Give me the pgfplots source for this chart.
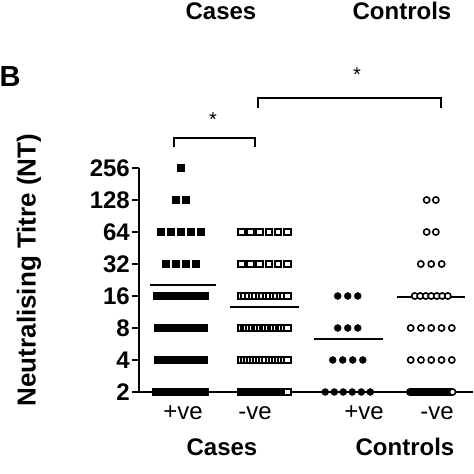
\documentclass[border=0pt]{standalone}
\usepackage{pgfplots}
\pgfplotsset{compat=1.18}
\usepackage{fontspec}
\setmainfont{Liberation Sans}
\begin{document}
\begin{tikzpicture}
\begin{axis}[
  name=ax,
  at={(0,0)}, anchor=south west,
  scale only axis, width=334bp, height=224bp,
  xmin=0.5, xmax=4.5,
  ymode=log, log basis y=2, ymin=2, ymax=256,
  axis x line*=bottom, axis y line*=left,
  axis line style={-, line width=1.6bp, black},
  xtick=\empty,
  ytick={2,4,8,16,32,64,128,256},
  yticklabels={\textbf{2},\textbf{4},\textbf{8},\textbf{16},\textbf{32},\textbf{64},\textbf{128},\textbf{256}},
  /pgf/number format/assume math mode=true,
  tick align=outside, major tick length=7bp,
  every tick/.style={black, line width=1.6bp},
  yticklabel style={font=\bfseries\fontsize{24bp}{24bp}\selectfont, inner sep=2bp},
  clip=false,
]
% Cases +ve (filled squares)
\addplot[only marks, mark=square*, mark size=3.8bp, mark options={fill=black, draw=black, line width=0.6bp}] table {
x y
1 256
0.94 128
1.06 128
0.76 64
0.88 64
1.00 64
1.12 64
1.24 64
0.82 32
0.94 32
1.06 32
1.18 32
0.712 16
0.760 16
0.808 16
0.856 16
0.904 16
0.952 16
1.000 16
1.048 16
1.096 16
1.144 16
1.192 16
1.240 16
1.288 16
0.730 8
0.779 8
0.828 8
0.877 8
0.926 8
0.975 8
1.025 8
1.074 8
1.123 8
1.172 8
1.221 8
1.270 8
0.730 4
0.779 4
0.828 4
0.877 4
0.926 4
0.975 4
1.025 4
1.074 4
1.123 4
1.172 4
1.221 4
1.270 4
0.710 2
0.755 2
0.799 2
0.844 2
0.888 2
0.933 2
0.978 2
1.022 2
1.067 2
1.112 2
1.156 2
1.201 2
1.245 2
1.290 2
};
% Cases -ve (open squares)
\addplot[only marks, mark=square*, mark size=3.3bp, mark options={fill=white, draw=black, line width=2bp}] table {
x y
1.725 64
1.835 64
1.945 64
2.055 64
2.165 64
2.275 64
1.725 32
1.835 32
1.945 32
2.055 32
2.165 32
2.275 32
1.725 16
1.767 16
1.810 16
1.852 16
1.894 16
1.937 16
1.979 16
2.021 16
2.063 16
2.106 16
2.148 16
2.190 16
2.233 16
2.275 16
1.725 8
1.757 8
1.790 8
1.822 8
1.854 8
1.887 8
1.919 8
1.951 8
1.984 8
2.016 8
2.049 8
2.081 8
2.113 8
2.146 8
2.178 8
2.210 8
2.243 8
2.275 8
1.725 4
1.762 4
1.798 4
1.835 4
1.872 4
1.908 4
1.945 4
1.982 4
2.018 4
2.055 4
2.092 4
2.128 4
2.165 4
2.202 4
2.238 4
2.275 4
1.725 2
1.739 2
1.753 2
1.767 2
1.781 2
1.795 2
1.809 2
1.823 2
1.837 2
1.851 2
1.866 2
1.880 2
1.894 2
1.908 2
1.922 2
1.936 2
1.950 2
1.964 2
1.978 2
1.993 2
2.007 2
2.021 2
2.035 2
2.049 2
2.063 2
2.077 2
2.091 2
2.105 2
2.119 2
2.134 2
2.148 2
2.162 2
2.176 2
2.190 2
2.204 2
2.218 2
2.232 2
2.246 2
2.260 2
2.275 2
};
% Controls +ve (filled circles)
\addplot[only marks, mark=*, mark size=3.5bp, mark options={fill=black, draw=black, line width=0.4bp}] table {
x y
2.88 16
3.00 16
3.12 16
2.88 8
3.00 8
3.12 8
2.82 4
2.94 4
3.06 4
3.18 4
2.730 2
2.838 2
2.946 2
3.054 2
3.162 2
3.270 2
};
% Controls -ve (open circles)
\addplot[only marks, mark=*, mark size=3.1bp, mark options={fill=white, draw=black, line width=1.6bp}] table {
x y
3.945 128
4.055 128
3.945 64
4.055 64
3.875 32
4.000 32
4.125 32
3.802 16
3.868 16
3.934 16
4.000 16
4.066 16
4.132 16
4.198 16
3.754 8
3.877 8
4.000 8
4.123 8
4.246 8
3.754 4
3.877 4
4.000 4
4.123 4
4.246 4
3.745 2
3.758 2
3.772 2
3.785 2
3.799 2
3.812 2
3.826 2
3.839 2
3.853 2
3.866 2
3.880 2
3.893 2
3.907 2
3.920 2
3.934 2
3.947 2
3.961 2
3.974 2
3.987 2
4.000 2
4.013 2
4.026 2
4.039 2
4.053 2
4.066 2
4.080 2
4.093 2
4.107 2
4.120 2
4.134 2
4.147 2
4.161 2
4.174 2
4.188 2
4.201 2
4.215 2
4.228 2
4.242 2
4.255 2
};
% mean lines
\addplot[black, line width=1.6bp] coordinates {(0.63,20.3) (1.42,20.3)};
\addplot[black, line width=1.6bp] coordinates {(1.587,12.6) (2.413,12.6)};
\addplot[black, line width=1.6bp] coordinates {(2.59,6.3) (3.42,6.3)};
\addplot[black, line width=1.6bp] coordinates {(3.59,15.7) (4.41,15.7)};
\end{axis}
\begin{scope}[shift={(ax.south west)}, x=1bp, y=1bp]
\def\lab{\fontsize{24bp}{24bp}\selectfont}
\node[font=\lab] at (44,-21) {+ve};
\node[font=\lab] at (116,-21) {-ve};
\node[font=\lab] at (225,-21) {+ve};
\node[font=\lab] at (298,-21) {-ve};
\node[font=\lab\bfseries] at (83,-55) {Cases};
\node[font=\lab\bfseries] at (266,-55) {Controls};
\node[font=\lab\bfseries] at (82,381) {Cases};
\node[font=\lab\bfseries] at (263,381) {Controls};
\node[font=\fontsize{29bp}{29bp}\selectfont\bfseries] at (-129,315) {B};
\node[font=\fontsize{26bp}{26bp}\selectfont\bfseries, rotate=90] at (-110,122) {Neutralising Titre (NT)};
\node[font=\fontsize{20bp}{20bp}\selectfont] at (74,272) {*};
\node[font=\fontsize{20bp}{20bp}\selectfont] at (218,317) {*};
\draw[line width=1.6bp] (35,245) -- (35,254) -- (116,254) -- (116,245);
\draw[line width=1.6bp] (119,284) -- (119,294) -- (302,294) -- (302,284);
\end{scope}
\pgfresetboundingbox
\path[use as bounding box] ([shift={(-139bp,-82bp)}]ax.south west) rectangle ([shift={(1bp,168bp)}]ax.north east);
\end{tikzpicture}
\end{document}
